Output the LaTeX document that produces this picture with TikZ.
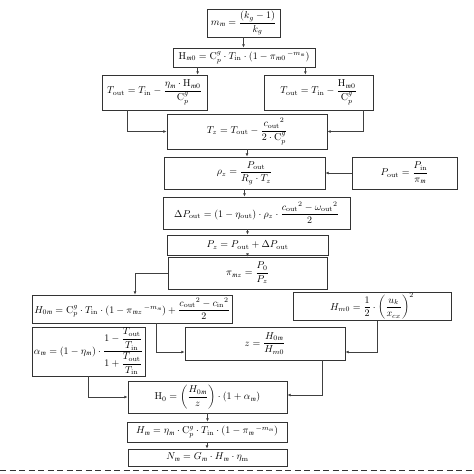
\documentclass[tikz,border=0pt]{standalone}
\usepackage{amsmath}
\usepackage{fontspec}
\newfontfamily\cyrf{Liberation Serif}
\usetikzlibrary{arrows.meta}
\newcommand{\tT}{\text{\cyrf\itshape\kern0.08em т}}
\newcommand{\Cpg}{\mathrm{C}_{\vphantom{T}p}^{g}}
\newcommand{\rin}{\mathrm{in}}
\newcommand{\rout}{\mathrm{out}}
\begin{document}
\begin{tikzpicture}[x=1pt,y=-1pt]
\tikzset{
  box/.style={draw=black!80, line width=0.8pt, fill=white, inner sep=1pt, font=\normalsize},
  arr/.style={draw=black!75, line width=0.6pt, -{Latex[length=3.2pt,width=2.8pt]}},
}
\useasboundingbox (0,0) rectangle (474,474);

\node[box, minimum width=73pt, minimum height=28pt] (mt) at (243.5,23) {$m_{\tT}=\dfrac{(k_g-1)}{k_g}$};
\node[box, minimum width=142pt, minimum height=19pt] (h2) at (244,57.5) {$\mathrm{H}_{\tT0}=\Cpg\cdot T_{\rin}\cdot\left(1-{\pi_{\tT0}}^{\,-m_{\tT}}\right)$};
\node[box, minimum width=105pt, minimum height=35pt] (tl) at (154.5,92.5) {$T_{\rout}=T_{\rin}-\dfrac{\eta_{\tT}\cdot\mathrm{H}_{\tT0}}{\Cpg}$};
\node[box, minimum width=109pt, minimum height=35pt] (tr) at (318.5,92.5) {$T_{\rout}=T_{\rin}-\dfrac{\mathrm{H}_{\tT0}}{\Cpg}$};
\node[box, minimum width=160pt, minimum height=35pt] (tz) at (247,131.5) {$T_z=T_{\rout}-\dfrac{{c_{\rout}}^2}{2\cdot\Cpg}$};
\node[box, minimum width=161pt, minimum height=32pt] (rho) at (244.5,173) {$\rho_z=\dfrac{P_{\rout}}{R_g\cdot T_z}$};
\node[box, minimum width=105pt, minimum height=32pt] (pout) at (404.5,173) {$P_{\rout}=\dfrac{P_{\rin}}{\pi_{\tT}}$};
\node[box, minimum width=187pt, minimum height=32pt] (dp) at (256.5,213) {$\Delta P_{\rout}=(1-\eta_{\rout})\cdot\rho_z\cdot\dfrac{{c_{\rout}}^2-{\omega_{\rout}}^2}{2}$};
\node[box, minimum width=161pt, minimum height=20pt] (pz) at (247.5,245) {$P_z=P_{\rout}+\Delta P_{\rout}$};
\node[box, minimum width=159pt, minimum height=32pt] (pi) at (247.5,273) {$\pi_{\tT z}=\dfrac{P_0}{P_z}$};
\node[box, minimum width=200pt, minimum height=28pt] (h0t) at (132,309) {$H_{0\tT}=\Cpg\cdot T_{\rin}\cdot\left(1-{\pi_{\tT z}}^{\,-m_{\tT}}\right)+\dfrac{{c_{\rout}}^2-{c_{\rin}}^2}{2}$};
\node[box, minimum width=158pt, minimum height=27pt] (hm0) at (372,306.5) {$H_{m0}=\dfrac{1}{2}\cdot\left(\dfrac{u_k}{x_{cx}}\right)^{2}$};
\node[box, minimum width=113pt, minimum height=49pt] (al) at (88.5,351.5) {$\alpha_{\tT}=(1-\eta_{\tT})\cdot\dfrac{1-\dfrac{T_{\rout}}{T_{\rin}}}{1+\dfrac{T_{\rout}}{T_{\rin}}}$};
\node[box, minimum width=160pt, minimum height=33pt] (z) at (265,343.5) {$z=\dfrac{H_{0\tT}}{H_{m0}}$};
\node[box, minimum width=159pt, minimum height=32pt] (h0) at (207.5,397) {$\mathrm{H}_0=\left(\dfrac{H_{0\tT}}{z}\right)\cdot(1+\alpha_{\tT})$};
\node[box, minimum width=160pt, minimum height=20pt] (ht) at (207,432) {$H_{\tT}=\eta_{\tT}\cdot\Cpg\cdot T_{\rin}\cdot\left(1-{\pi_{\tT}}^{\,-m_{\tT}}\right)$};
\node[box, minimum width=159pt, minimum height=17pt] (nt) at (207.5,457.5) {$N_{\tT}=G_{\tT}\cdot H_{\tT}\cdot\eta_{\mathrm{m}}$};

\draw[arr] (mt.south) -- (mt.south |- h2.north);
\draw[arr] ([xshift=25pt]h2.south west) -- ([xshift=25pt]h2.south west |- tl.north);
\draw[arr] ([xshift=-10pt]h2.south east) -- ([xshift=-10pt]h2.south east |- tr.north);
\draw[arr] ([xshift=26pt]tl.south west) |- (tz.west);
\draw[arr] ([xshift=-10pt]tr.south east) |- (tz.east);
\draw[arr] (tz.south) -- (tz.south |- rho.north);
\draw[arr] (pout.west) -- (rho.east);
\draw[arr] (rho.south) -- (rho.south |- dp.north);
\draw[arr] (pz.north |- dp.south) -- (pz.north);
\draw[arr] (pz.south) -- (pi.north);
\draw[arr] (pi.west) -| ([xshift=3pt]h0t.north);
\draw[arr] ([xshift=24pt]h0t.south) |- ([yshift=-8.5pt]z.west);
\draw[arr] ([xshift=5pt]hm0.south) |- ([yshift=-8.5pt]z.east);
\draw[arr] (al.south) |- (h0.west);
\draw[arr] ([xshift=-23pt]z.south east) |- ([yshift=2pt]h0.east);
\draw[arr] (h0.south) -- (h0.south |- ht.north);
\draw[arr] (ht.south) -- (ht.south |- nt.north);

\draw[black!80, line width=1pt, dash pattern=on 6pt off 3.5pt] (0,470) -- (474,470);
\end{tikzpicture}
\end{document}
